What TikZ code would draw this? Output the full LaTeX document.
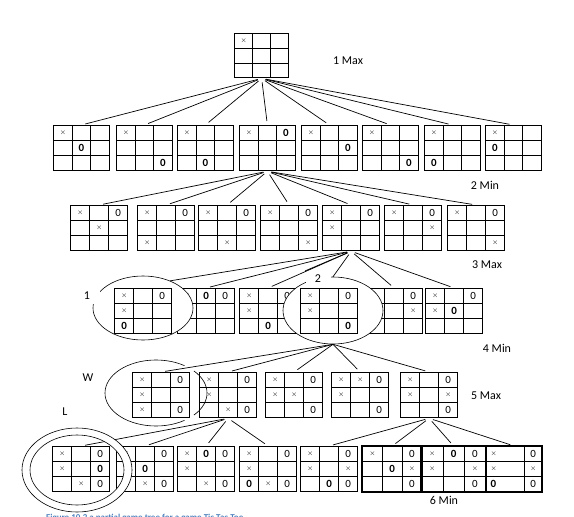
\documentclass[tikz,border=0pt]{standalone}
\usepackage{fontspec}
\setmainfont{Carlito}
\usetikzlibrary{matrix,shapes.geometric}
\definecolor{capblue}{RGB}{79,129,189}
\newcommand{\crs}{{\fontsize{7}{7}\selectfont$\times$}}
\newcommand{\bzero}{\textbf{0}}
\tikzset{
    cell/.style={draw, line width=0.9pt, inner sep=0pt, minimum width=19pt,
        minimum height=15pt, anchor=center, font=\fontsize{11}{12}\selectfont},
    board/.style={matrix of nodes, nodes in empty cells, anchor=north west,
        inner sep=0pt, column sep=-0.9pt, row sep=-0.9pt, nodes={cell}},
    wide/.style={minimum width=38pt, text width=30pt, align=left},
    edge/.style={line width=0.7pt, shorten <=4pt, shorten >=4pt},
    ring/.style={draw, ellipse, fill=white, line width=0.6pt, inner sep=0pt},
    level/.style={font=\fontsize{12}{14}\selectfont},
    hole/.style={fill=white, inner sep=0pt, font=\fontsize{12}{14}\selectfont},
}

\begin{document}
\begin{tikzpicture}[x=1pt, y=-1pt]
    \useasboundingbox (0,0) rectangle (574,517);
    % Level 1
    \matrix[board, nodes={minimum width=18pt, minimum height=14.7pt}] (root) at (234,33) {
        \crs & & \\ & & \\ & & \\ };
    \node[level] (lv1) at (348,61) {1 Max};
    % Level 2
    \matrix[board, nodes={minimum width=18.5pt}] (e1) at (53,125) {
        \crs & & \\ & \bzero & \\ & & \\ };
    \matrix[board, nodes={minimum width=18.5pt}] (e2) at (116,125) {
        \crs & & \\ & & \\ & & \bzero \\ };
    \matrix[board, nodes={minimum width=18.5pt}] (e3) at (177,125) {
        \crs & & \\ & & \\ & \bzero & \\ };
    \matrix[board, nodes={minimum width=18.5pt}] (e4) at (239,125) {
        \crs & & \bzero \\ & & \\ & & \\ };
    \matrix[board, nodes={minimum width=18.5pt}] (e5) at (301,125) {
        \crs & & \\ & & \bzero \\ & & \\ };
    \matrix[board, nodes={minimum width=18.5pt}] (e6) at (362,125) {
        \crs & & \\ & & \\ & & \bzero \\ };
    \matrix[board, nodes={minimum width=18.5pt}] (e7) at (424,125) {
        \crs & & \\ & & \\ \bzero & & \\ };
    \matrix[board, nodes={minimum width=18.5pt}] (e8) at (485,125) {
        \crs & & \\ \bzero & & \\ & & \\ };
    \node[level] (lv2) at (485,185) {2 Min};
    % Level 3
    \matrix[board] (d1) at (70,205) {
        \crs & & 0 \\ & \crs & \\ & & \\ };
    \matrix[board] (d2) at (137,205) {
        \crs & & 0 \\ & & \\ \crs & & \\ };
    \matrix[board] (d3) at (198,205) {
        \crs & & 0 \\ & & \\ & \crs & \\ };
    \matrix[board] (d4) at (260,205) {
        \crs & & 0 \\ & & \\ & & \crs \\ };
    \matrix[board] (d5) at (322,205) {
        \crs & & 0 \\ \crs & & \\ & & \\ };
    \matrix[board] (d6) at (384,205) {
        \crs & & 0 \\ & & \crs \\ & & \\ };
    \matrix[board] (d7) at (447,205) {
        \crs & & 0 \\ & & \\ & & \crs \\ };
    \node[level] (lv3) at (487,265) {3 Max};
    % Level 4
    \matrix[board] (c2) at (177,288) {
        \crs & \bzero & 0 \\ \crs & & \\ & & \\ };
    \matrix[board] (c3) at (239,288) {
        \crs & & 0 \\ \crs & & \\ & \bzero & \\ };
    \matrix[board] (c5) at (365,288) {
        \crs & & 0 \\ \crs & & \crs \\ & & \\ };
    \matrix[board] (c6) at (425,288) {
        \crs & & 0 \\ \crs & \bzero & \\ & & \\ };
    \node[ring, minimum width=100pt, minimum height=64pt] (ring1) at (143,308) {};
    \node[ring, minimum width=100pt, minimum height=67pt] (ring2) at (333,310.5) {};
    \matrix[board] (c1) at (114,288) {
        \crs & & 0 \\ \crs & & \\ \bzero & & \\ };
    \matrix[board] (c4) at (300,288) {
        \crs & & 0 \\ \crs & & \\ & & \bzero \\ };
    \node[hole, minimum width=26pt, minimum height=16pt] (lbl1) at (87,296) {1};
    \node[hole, minimum width=25pt, minimum height=16pt] (lbl2) at (318,279) {2};
    \node[level] (lv4) at (497,348) {4 Min};
    % Level 5
    \matrix[board] (b1) at (132,372) {
        \crs & & 0 \\ \crs & & \\ \crs & & 0 \\ };
    \matrix[board] (b2) at (199,372) {
        \crs & & 0 \\ \crs & & \\ & \crs & 0 \\ };
    \matrix[board] (b3) at (265,372) {
        \crs & & 0 \\ \crs & \crs & \\ & & 0 \\ };
    \matrix[board] (b4) at (331,372) {
        \crs & \crs & 0 \\ \crs & & \\ & & 0 \\ };
    \matrix[board] (b5) at (400,372) {
        \crs & & 0 \\ \crs & & \crs \\ & & 0 \\ };
    \draw[line width=0.6pt] (156,393) ++(56:51 and 33)
        arc[start angle=56, end angle=304, x radius=51, y radius=33];
    \draw[line width=0.6pt] (156,393) ++(-42:51 and 33)
        arc[start angle=-42, end angle=42, x radius=51, y radius=33];
    \node[level] (lblw) at (88,378) {W};
    \node[level] (lv5) at (486,396) {5 Max};
    % Level 6
    \matrix[board] (l1) at (52,446) {
        \crs & & 0 \\ \crs & & \bzero \\ & \crs & 0 \\ };
    \matrix[board] (l2) at (116,446) {
        \crs & & 0 \\ \crs & \bzero & \\ & \crs & 0 \\ };
    \matrix[board] (l3) at (177,446) {
        \crs & \bzero & 0 \\ \crs & & \\ & \crs & 0 \\ };
    \matrix[board] (l4) at (239,446) {
        \crs & & 0 \\ \crs & & \\ \bzero & \crs & 0 \\ };
    \matrix[board] (l5) at (300,446) {
        \crs & & 0 \\ \crs & & \crs \\ & \bzero & 0 \\ };
    \matrix[board, nodes={minimum width=19.7pt}] (g1) at (362,446) {
        \crs & & 0 \\ & \bzero & \crs \\ & & 0 \\ };
    \matrix[board, nodes={minimum width=21.3pt}] (g2) at (421,446) {
        \crs & \bzero & 0 \\ \crs & & \crs \\ & & 0 \\ };
    \matrix[board, nodes={minimum width=17pt}] (g3) at (486,446) {
        |[wide]| \crs & 0 \\ |[wide]| \crs & \crs \\ |[wide]| \bzero & 0 \\ };
    \draw[line width=1.8pt] (g1.north west) rectangle (g1.south east);
    \draw[line width=1.8pt] (g2.north west) rectangle (g2.south east);
    \draw[line width=1.8pt] (g3.north west) rectangle (g3.south east);
    \node[level] (lv6) at (444,500) {6 Min};
    % Connectors
    \draw[edge] (root.south) edge (e1.north) edge (e2.north) edge (e3.north)
        edge (e4.north) edge (e5.north) edge (e6.north) edge (e7.north) edge (e8.north);
    \draw[edge] (e4.south) edge (d1.north) edge (d2.north) edge (d3.north)
        edge (d4.north) edge (d5.north) edge (d6.north) edge (d7.north);
    \draw[edge] (d5.south) edge[shorten >=0pt] (ring1.45) edge (c2.north) edge (c3.north)
        edge[shorten >=0pt] (lbl2.north west) edge[shorten >=0pt] (ring2.north)
        edge (c5.north) edge (c6.north);
    \draw[edge, shorten <=0pt] (ring2.south) edge (b1.north) edge (b2.north)
        edge (b3.north) edge (b4.north) edge (b5.north);
    \draw[edge] (b2.south) edge (l1.north) edge (l2.north) edge (l3.north) edge (l4.north);
    \draw[edge] (b5.south) edge (l5.north) edge (g1.north) edge (g2.north) edge (g3.north);
    % L ring
    \fill[white, even odd rule] (77,470) ellipse[x radius=55, y radius=42]
        (77,470) ellipse[x radius=47, y radius=35];
    \draw[line width=0.6pt] (77,470) ellipse[x radius=55, y radius=42]
        (77,470) ellipse[x radius=47, y radius=35];
    \node[level] (lbll) at (65,412) {L};
    % Caption
    \node[anchor=north west, inner sep=0pt, text=capblue,
        font=\fontsize{9}{11}\selectfont\bfseries] (caption) at (46,513.5)
        {Figure 10.2 a partial game tree for a game Tic Tac Toe};
\end{tikzpicture}
\end{document}
